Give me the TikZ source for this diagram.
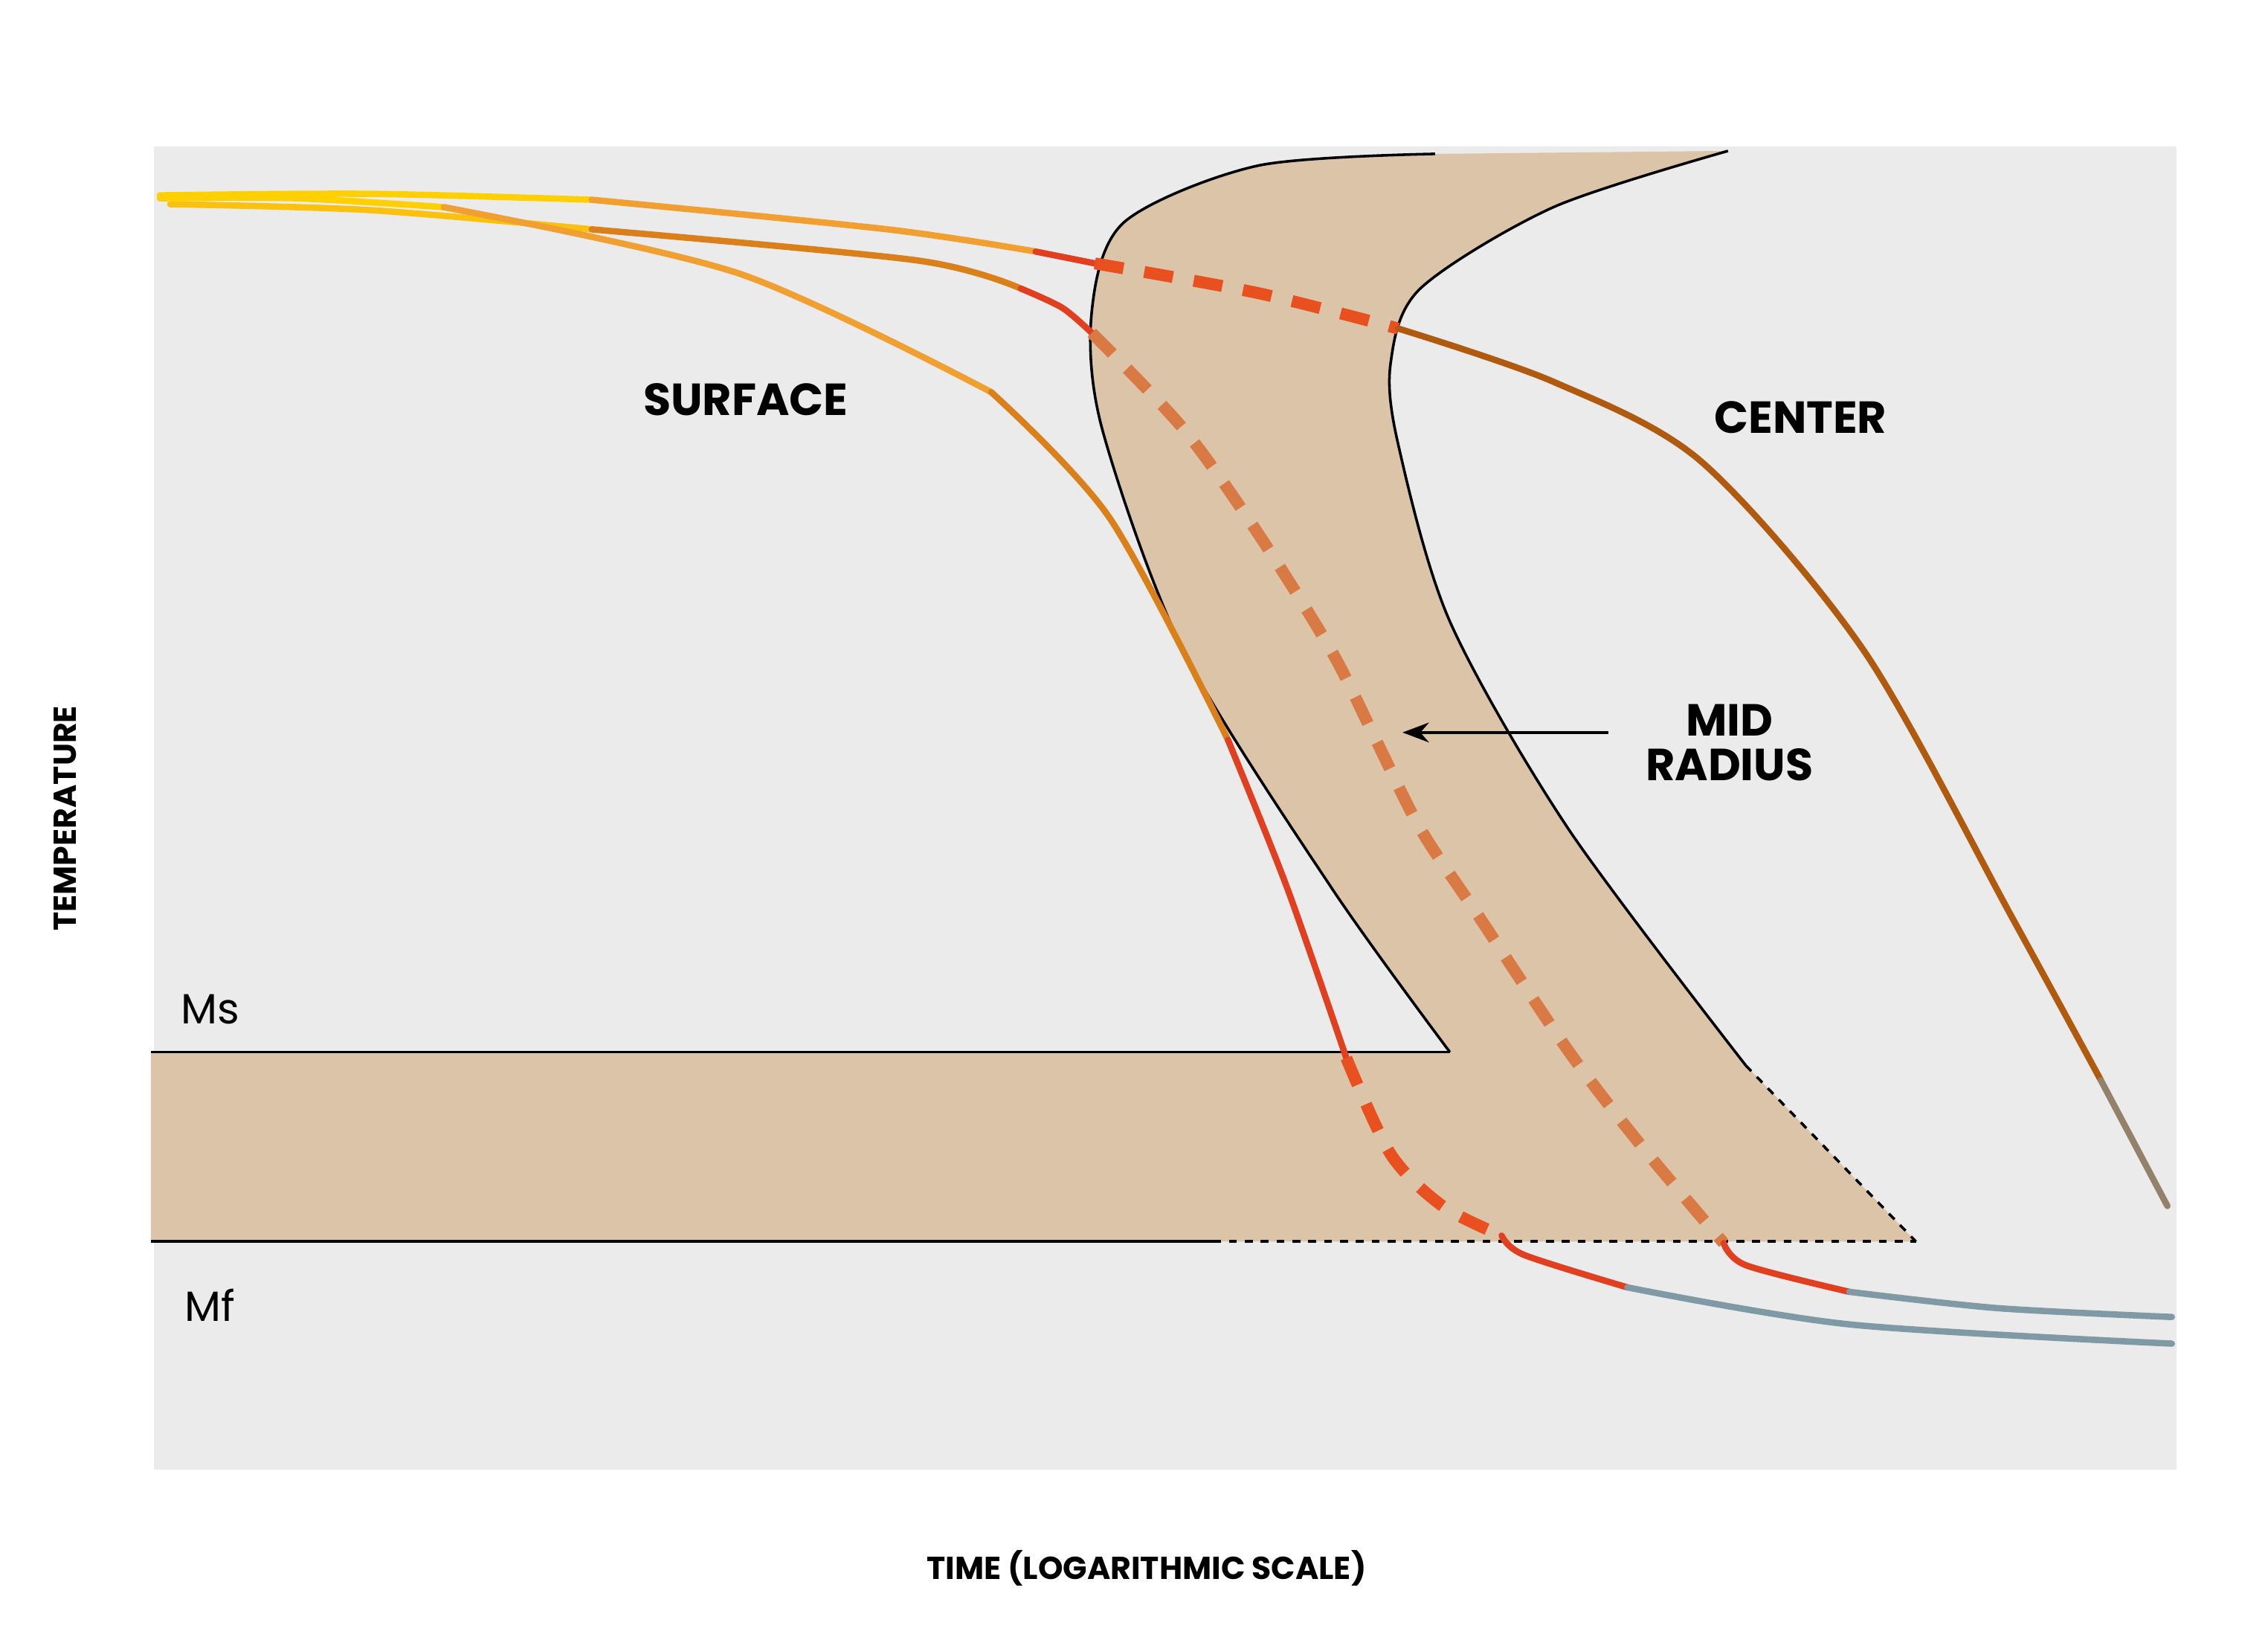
\documentclass[tikz,border=0pt]{standalone}
\usepackage{fontspec}
\setmainfont{Poppins}
\usetikzlibrary{arrows.meta}
\definecolor{panel}{HTML}{EBEBEB}
\definecolor{tan}{HTML}{DBC4A8}
\definecolor{cyellow}{HTML}{FFD000}
\definecolor{corange}{HTML}{F0A030}
\definecolor{cdark}{HTML}{D9801A}
\definecolor{cred}{HTML}{E04020}
\definecolor{cbrown}{HTML}{B05A10}
\definecolor{cblue}{HTML}{7F9AA5}
\definecolor{cdash}{HTML}{E85020}
\definecolor{cmid}{HTML}{D97A45}
\begin{document}
\begin{tikzpicture}[x=0.01968cm, y=-0.01968cm]
\tikzstyle{curve}=[line width=2.4pt, line cap=round]
\tikzstyle{dashcurve}=[line width=4.5pt, dash pattern=on 11pt off 8pt]
\tikzstyle{outline}=[line width=1pt]
\tikzstyle{biglabel}=[font=\bfseries\fontsize{17}{20}\selectfont, align=center]
\tikzstyle{axislabel}=[font=\bfseries\fontsize{12}{14}\selectfont]
\tikzstyle{templabel}=[font=\fontsize{16}{19}\selectfont]

\useasboundingbox (0,0) rectangle (1533,1106);
\fill[panel] (104,99) rectangle (1471,993);

% transformation region
\fill[tan] (102,711) -- (980,711)
  -- plot[smooth] coordinates {(980,711) (900,600) (800,440) (745,290) (738,210) (760,150) (850,112) (970,104)}
  -- (1168,102)
  -- plot[smooth] coordinates {(1168,102) (1050,140) (960,195) (940,245) (945,300) (980,420) (1060,560) (1180,720)}
  -- (1295,839) -- (102,839) -- cycle;
\draw[outline] (102,711) -- (980,711);
\draw[outline] plot[smooth] coordinates {(980,711) (900,600) (800,440) (745,290) (738,210) (760,150) (850,112) (970,104)};
\draw[outline] plot[smooth] coordinates {(1168,102) (1050,140) (960,195) (940,245) (945,300) (980,420) (1060,560) (1180,720)};
\draw[outline, dashed] (1180,720) -- (1295,839);
\draw[outline] (102,839) -- (820,839);
\draw[outline, dashed] (820,839) -- (1295,839);

% center
\draw[curve, cyellow] plot[smooth] coordinates {(108,132) (250,131) (400,135)};
\draw[curve, corange] plot[smooth] coordinates {(400,135) (600,155) (700,170)};
\draw[curve, cred] (700,170) -- (740,178);
\draw[dashcurve, cdash] plot[smooth] coordinates {(740,178) (850,198) (945,222)};
\draw[curve, cbrown] plot[smooth] coordinates {(945,222) (1050,258) (1150,312) (1260,440) (1360,620) (1420,730)};
\draw[curve, cblue!60!cbrown] plot[smooth] coordinates {(1420,730) (1465,815)};

% mid radius
\draw[curve, cyellow!70!corange] plot[smooth] coordinates {(115,138) (250,142) (400,155)};
\draw[curve, cdark] plot[smooth] coordinates {(400,155) (620,176) (690,195)};
\draw[curve, cred] plot[smooth] coordinates {(690,195) (718,208) (738,225)};
\draw[dashcurve, cmid] plot[smooth] coordinates {(738,225) (800,290) (850,360) (900,440) (930,500) (960,560) (1000,620) (1060,710) (1110,775) (1165,840)};
\draw[curve, cred] plot[smooth] coordinates {(1165,840) (1180,855) (1250,873)};
\draw[curve, cblue] plot[smooth] coordinates {(1250,873) (1350,884) (1468,890)};

% surface
\draw[curve, cyellow] plot[smooth] coordinates {(108,134) (200,134) (300,140)};
\draw[curve, corange] plot[smooth] coordinates {(300,140) (500,185) (670,265)};
\draw[curve, cdark] plot[smooth] coordinates {(670,265) (750,350) (830,500)};
\draw[curve, cred] plot[smooth] coordinates {(830,500) (870,600) (910,715)};
\draw[dashcurve, cdash] plot[smooth] coordinates {(910,715) (940,780) (975,815) (1015,835)};
\draw[curve, cred] plot[smooth] coordinates {(1015,835) (1030,848) (1100,870)};
\draw[curve, cblue] plot[smooth] coordinates {(1100,870) (1250,895) (1468,908)};

% labels
\node (surface) [biglabel] at (504,270) {SURFACE};
\node (center) [biglabel] at (1217,282) {CENTER};
\node (mid) [biglabel] at (1169,502) {MID\\[-3pt]RADIUS};
\coordinate (midtip) at (948,495);
\draw[outline, -{Stealth[length=10pt]}] (1087,495) -- (midtip);
\node (ms) [templabel] at (142,682) {Ms};
\node (mf) [templabel] at (142,882) {Mf};
\node (temp) [axislabel, rotate=90] at (44,553) {TEMPERATURE};
\node (time) [axislabel] at (775,1060) {TIME (LOGARITHMIC SCALE)};
\end{tikzpicture}
\end{document}
